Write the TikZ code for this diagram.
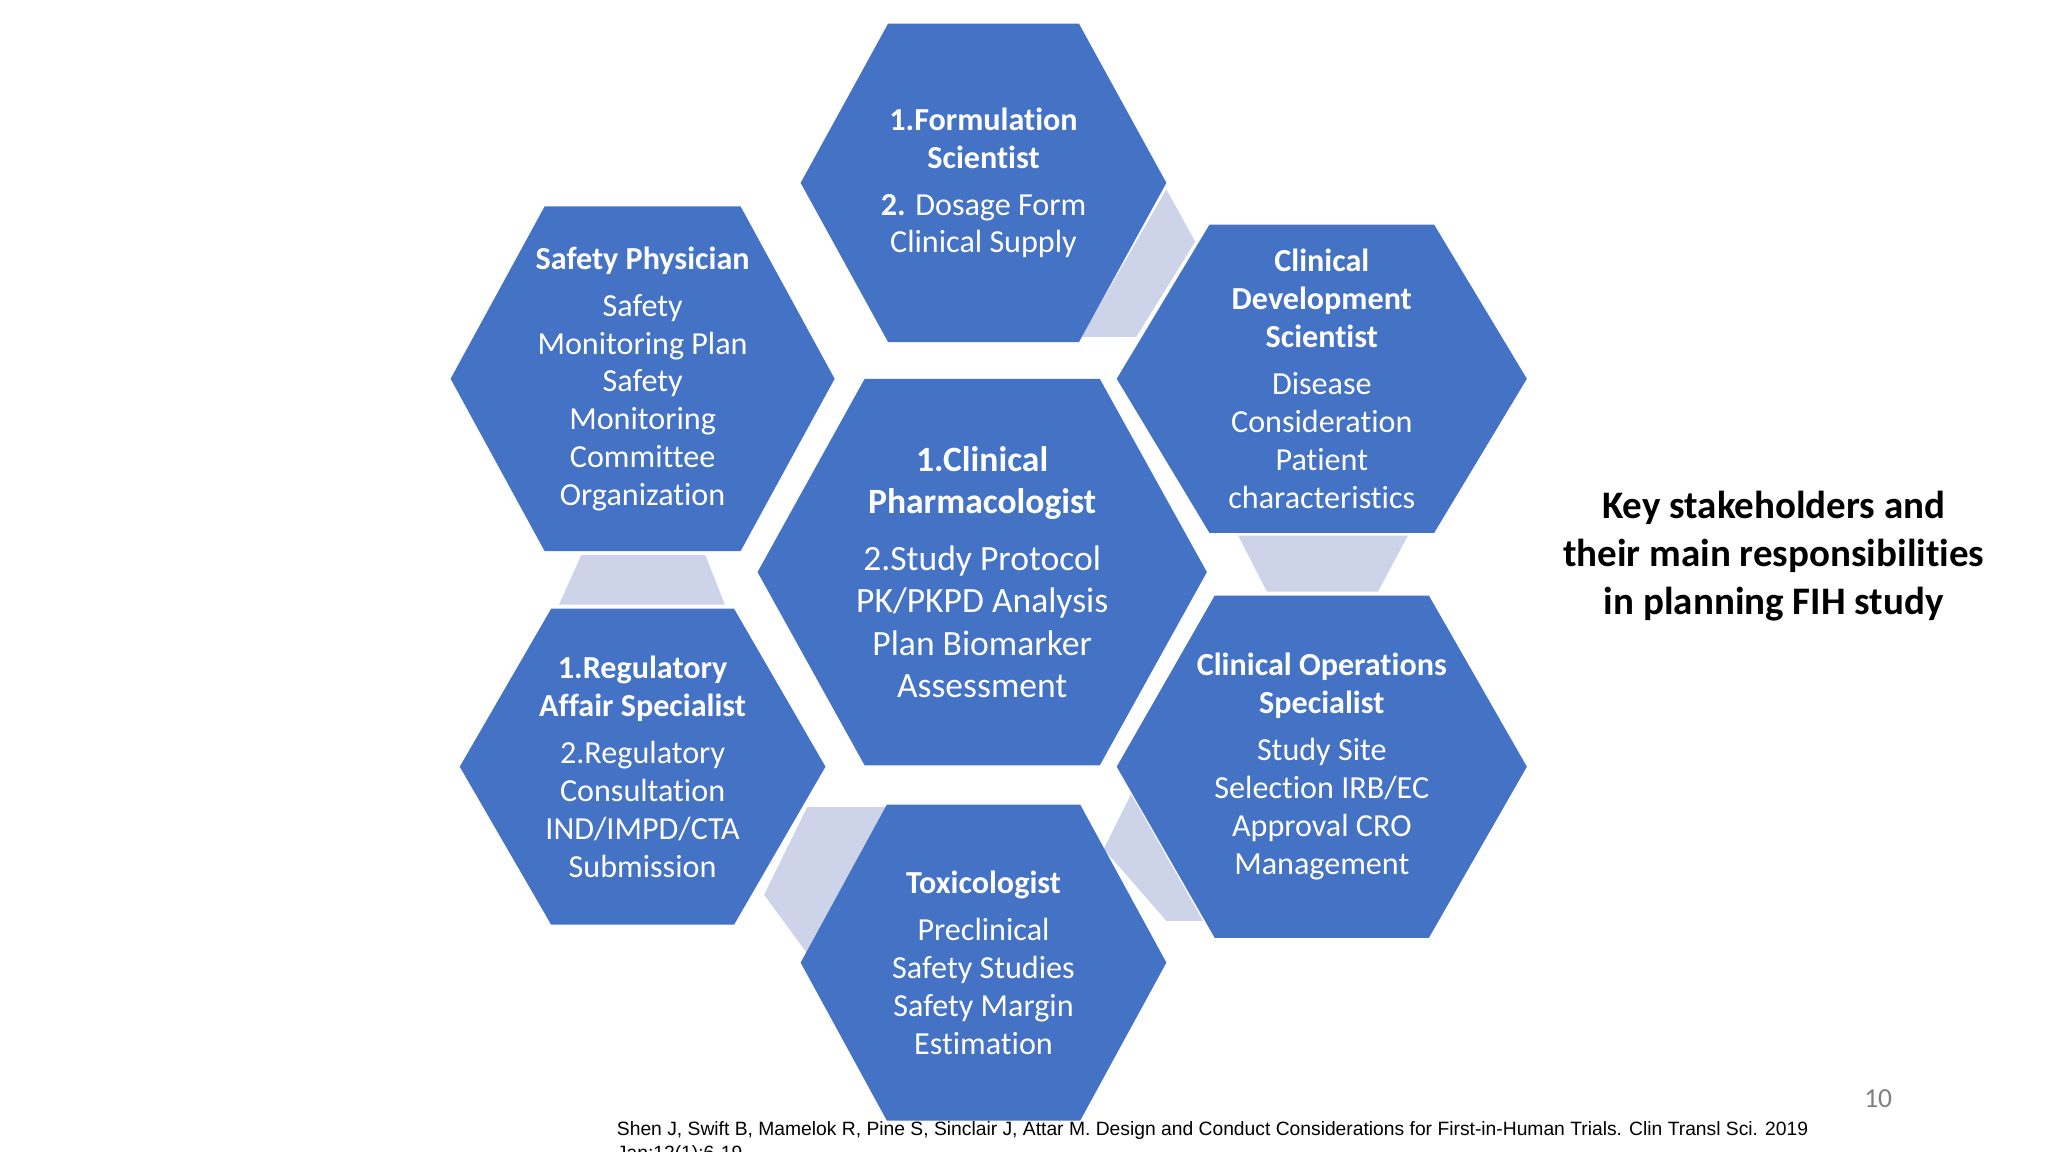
\documentclass[tikz,border=0pt]{standalone}
\usepackage{fontspec}
\setmainfont{Carlito}[Ligatures=NoCommon]
\newfontfamily\arialfont{Liberation Sans}
\definecolor{hexblue}{HTML}{4472C4}
\definecolor{linkgrey}{HTML}{CDD3E8}
\tikzset{
  hextext/.style={text=white, align=center, font=\fontsize{14}{16.5}\selectfont},
  bigtext/.style={text=white, align=center, font=\fontsize{15.5}{18.5}\selectfont},
  link/.style={fill=linkgrey, draw=none}
}
% hexagon: centre, half width, half top edge, half height
\newcommand\hexcell[4]{%
  \fill[hexblue] ($#1+(-#2,0)$) -- ($#1+(-#3,-#4)$) -- ($#1+(#3,-#4)$)
    -- ($#1+(#2,0)$) -- ($#1+(#3,#4)$) -- ($#1+(-#3,#4)$) -- cycle;}
\usetikzlibrary{calc}
\begin{document}
\begin{tikzpicture}[x=0.02cm, y=-0.02cm]
\useasboundingbox[fill=white] (0,0) rectangle (1568,882);
% Links
    \fill[link] (893,145) -- (915,185) -- (870,258) -- (828,258) -- cycle;
    \fill[link] (445,425) -- (540,425) -- (555,463) -- (428,463) -- cycle;
    \fill[link] (948,410) -- (1078,410) -- (1055,453) -- (970,453) -- cycle;
    \fill[link] (618,618) -- (680,618) -- (618,730) -- (585,685) -- cycle;
    \fill[link] (866,608) -- (921,705) -- (893,705) -- (845,650) -- cycle;
% Cells
    \hexcell{(753,140)}{140}{73}{122}
    \hexcell{(492,290)}{147}{75}{132}
    \hexcell{(1012,290)}{157}{86}{118}
    \hexcell{(752,438)}{172}{90}{148}
    \hexcell{(492,587)}{140}{70}{121}
    \hexcell{(1012,587)}{157}{82}{131}
    \hexcell{(753,737)}{140}{74}{121}
% Texts
    \node[hextext] (formulation) at (753,140) {\textbf{1.Formulation}\\\textbf{Scientist}\\[4pt]\textbf{2.} Dosage Form\\Clinical Supply};
    \node[hextext] (safety) at (492,290) {\textbf{Safety Physician}\\[4pt]Safety\\Monitoring Plan\\Safety\\Monitoring\\Committee\\Organization};
    \node[hextext] (development) at (1012,290) {\textbf{Clinical}\\\textbf{Development}\\\textbf{Scientist}\\[4pt]Disease\\Consideration\\Patient\\characteristics};
    \node[bigtext] (pharmacologist) at (752,438) {\textbf{1.Clinical}\\\textbf{Pharmacologist}\\[6pt]2.Study Protocol\\PK/PKPD Analysis\\Plan Biomarker\\Assessment};
    \node[hextext] (regulatory) at (492,587) {\textbf{1.Regulatory}\\\textbf{Affair Specialist}\\[4pt]2.Regulatory\\Consultation\\IND/IMPD/CTA\\Submission};
    \node[hextext] (operations) at (1012,587) {\textbf{Clinical Operations}\\\textbf{Specialist}\\[4pt]Study Site\\Selection IRB/EC\\Approval CRO\\Management};
    \node[hextext] (toxicologist) at (753,737) {\textbf{Toxicologist}\\[4pt]Preclinical\\Safety Studies\\Safety Margin\\Estimation};
% Caption and footer
    \node[align=center, font=\fontsize{17}{21}\selectfont\bfseries] (title) at (1358,426) {Key stakeholders and\\their main responsibilities\\in planning FIH study};
    \node[text=gray, font=\fontsize{12}{14}\selectfont] (page) at (1438,841) {10};
    \node[anchor=north west, inner sep=0pt, align=left, font=\arialfont\fontsize{8.4}{10.5}\selectfont] (source) at (472,858) {Shen J, Swift B, Mamelok R, Pine S, Sinclair J, Attar M. Design and Conduct Considerations for First-in-Human Trials. Clin Transl Sci. 2019\\Jan;12(1):6-19.};
\end{tikzpicture}
\end{document}
